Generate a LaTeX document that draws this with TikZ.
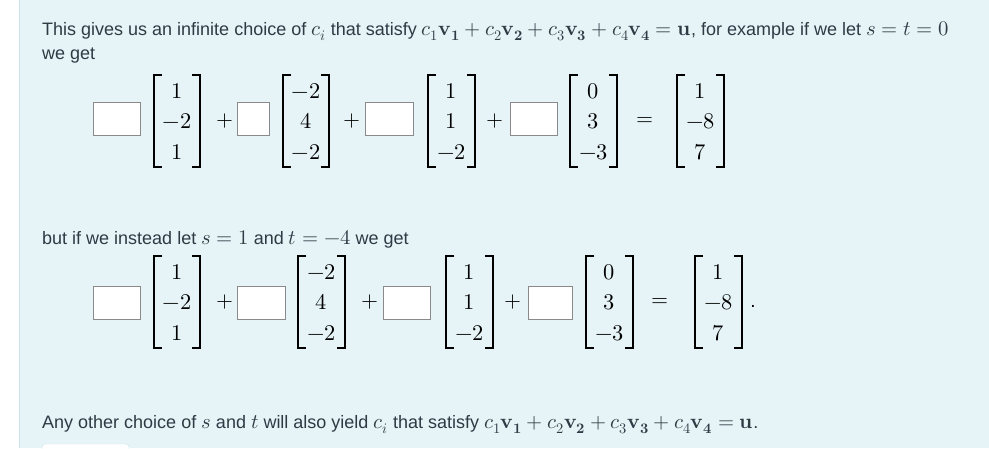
\documentclass[tikz,border=0pt]{standalone}
\usepackage{amsmath}
\usepackage{fontspec}
\setmainfont{Liberation Sans}
\usepackage{unicode-math}
\setmathfont{Latin Modern Math}[Scale=1.15]
\definecolor{panel}{HTML}{E6F4F7}
\definecolor{edge}{HTML}{C9E3EA}
\definecolor{txt}{HTML}{2D3B45}
\definecolor{boxb}{HTML}{8A8A8A}
\tikzset{
 ansbox/.style={draw=boxb,fill=white,line width=1pt,inner sep=0pt},
 ent/.style={inner sep=0pt,font=\fontsize{19.5}{19.5}\selectfont,text=black},
 brk/.style={line width=2pt,black},
 line/.style={anchor=base west,inner sep=0pt,text=txt,font=\fontsize{18}{22}\selectfont},
 op/.style={inner sep=0pt,font=\fontsize{19}{19}\selectfont,text=black}
}
\newcommand{\mymat}[7]{% name, xl, xr, ytop(row1 center), a,b,c
 \draw[brk] (#2+8,#4-16) -- (#2,#4-16) -- (#2,#4+76) -- (#2+8,#4+76);
 \draw[brk] (#3-8,#4-16) -- (#3,#4-16) -- (#3,#4+76) -- (#3-8,#4+76);
 \node[ent] (#1a) at ({(#2+#3)/2},#4) {$#5$};
 \node[ent] (#1b) at ({(#2+#3)/2},#4+30) {$#6$};
 \node[ent] (#1c) at ({(#2+#3)/2},#4+61) {$#7$};
}
\newcommand{\abox}[4]{\draw[ansbox] (#2,#3) rectangle (#4,#3+33); \coordinate (#1) at (#2,#3);}
\begin{document}
\begin{tikzpicture}[x=1pt,y=-1pt]
\useasboundingbox (0,0) rectangle (989,448);
\fill[panel] (19,0) rectangle (989,448);
\draw[edge,line width=1pt] (19.5,0) -- (19.5,448);
\draw[fill=white,draw=edge,rounded corners=3pt] (42,452) -- (42,444) -- (129,444) -- (129,452);
\node[line] (t1) at (42,35) {This gives us an infinite choice of $c_i$ that satisfy $c_1\symbf{v_1}+c_2\symbf{v_2}+c_3\symbf{v_3}+c_4\symbf{v_4}=\symbf{u}$, for example if we let $s=t=0$};
\node[line] (t2) at (42,59) {we get};
% row 1
\abox{b11}{93}{102}{140}
\mymat{m11}{154}{200}{91}{1}{-2}{1}
\node[op] (p11) at (225,121) {$+$};
\abox{b12}{237}{102}{269}
\mymat{m12}{283}{329}{91}{-2}{4}{-2}
\node[op] (p12) at (352,121) {$+$};
\abox{b13}{365}{102}{413}
\mymat{m13}{428}{475}{91}{1}{1}{-2}
\node[op] (p13) at (495,121) {$+$};
\abox{b14}{510}{102}{557}
\mymat{m14}{570}{617}{91}{0}{3}{-3}
\node[op] (e1) at (645,121) {$=$};
\mymat{m15}{677}{724}{91}{1}{-8}{7}
\node[line] (t3) at (42,244) {but if we instead let $s=1$ and $t=-4$ we get};
% row 2
\abox{b21}{93}{286}{140}
\mymat{m21}{154}{200}{272}{1}{-2}{1}
\node[op] (p21) at (225,302) {$+$};
\abox{b22}{237}{286}{285}
\mymat{m22}{298}{345}{272}{-2}{4}{-2}
\node[op] (p22) at (370,302) {$+$};
\abox{b23}{383}{286}{430}
\mymat{m23}{446}{493}{272}{1}{1}{-2}
\node[op] (p23) at (513,302) {$+$};
\abox{b24}{528}{286}{572}
\mymat{m24}{586}{633}{272}{0}{3}{-3}
\node[op] (e2) at (660,302) {$=$};
\mymat{m25}{695}{742}{272}{1}{-8}{7}
\node[op] (dot) at (753,306) {.};
\node[line] (t4) at (42,428) {Any other choice of $s$ and $t$ will also yield $c_i$ that satisfy $c_1\symbf{v_1}+c_2\symbf{v_2}+c_3\symbf{v_3}+c_4\symbf{v_4}=\symbf{u}$.};
\end{tikzpicture}
\end{document}
